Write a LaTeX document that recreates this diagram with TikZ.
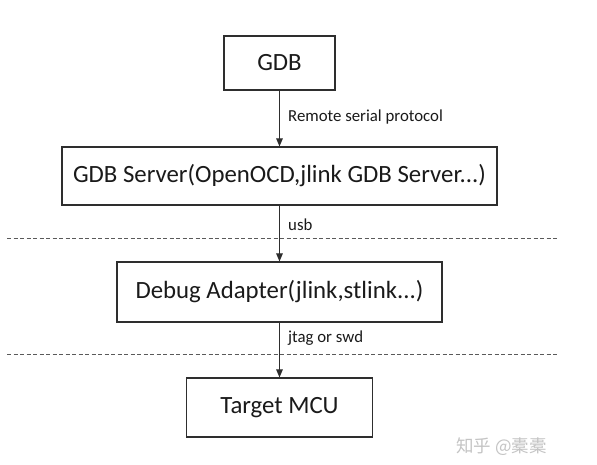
\documentclass[tikz,border=0pt]{standalone}
\usepackage{fontspec}
\setmainfont{Carlito}
\newfontfamily\cjkfont{Noto Sans CJK SC}
\usetikzlibrary{arrows.meta}
\definecolor{linec}{HTML}{2E2E2E}
\definecolor{textc}{HTML}{1A1A1A}
\definecolor{dashc}{HTML}{5A5A5A}
\definecolor{wmark}{HTML}{C4C4C4}
\tikzset{
  boxnode/.style={draw=linec, line width=1.1pt, text=textc, font=\fontsize{24.8}{28}\selectfont, inner sep=0pt, anchor=center},
  lbl/.style={text=textc, font=\fontsize{16.8}{19}\selectfont, anchor=west, inner sep=0pt},
  conn/.style={draw=linec, line width=1pt, -{Triangle[length=8pt,width=6.5pt]}},
  sep/.style={draw=dashc, line width=1pt, dash pattern=on 4pt off 2.5pt}
}
\begin{document}
\begin{tikzpicture}[x=1pt,y=-1pt]
\useasboundingbox (0,0) rectangle (597,464);
\fill[white] (0,0) rectangle (597,464);
\node[boxnode, minimum width=111pt, minimum height=54pt] (gdb) at (279.5,63) {GDB};
\node[boxnode, minimum width=435pt, minimum height=58pt] (srv) at (279.5,176) {GDB Server(OpenOCD,jlink GDB Server...)};
\node[boxnode, minimum width=325pt, minimum height=60pt] (dbg) at (279.5,292) {Debug Adapter(jlink,stlink...)};
\node[boxnode, minimum width=186pt, minimum height=59pt] (mcu) at (279.5,407.5) {Target MCU};
\coordinate (d1l) at (7,238);
\coordinate (d1r) at (558,238);
\coordinate (d2l) at (7,354);
\coordinate (d2r) at (558,354);
\draw[sep] (d1l) -- (d1r);
\draw[sep] (d2l) -- (d2r);
\draw[conn] (gdb.south) -- (srv.north);
\draw[conn] (srv.south) -- (dbg.north);
\draw[conn] (dbg.south) -- (mcu.north);
\node[lbl] (l1) at (288,117) {Remote serial protocol};
\node[lbl] (l2) at (288,225) {usb};
\node[lbl] (l3) at (288,338) {jtag or swd};
\node[text=wmark, font=\cjkfont\fontsize{17.5}{20}\selectfont, inner sep=0pt, anchor=west] (wm) at (456,447) {知乎 @橐橐};
\end{tikzpicture}
\end{document}
